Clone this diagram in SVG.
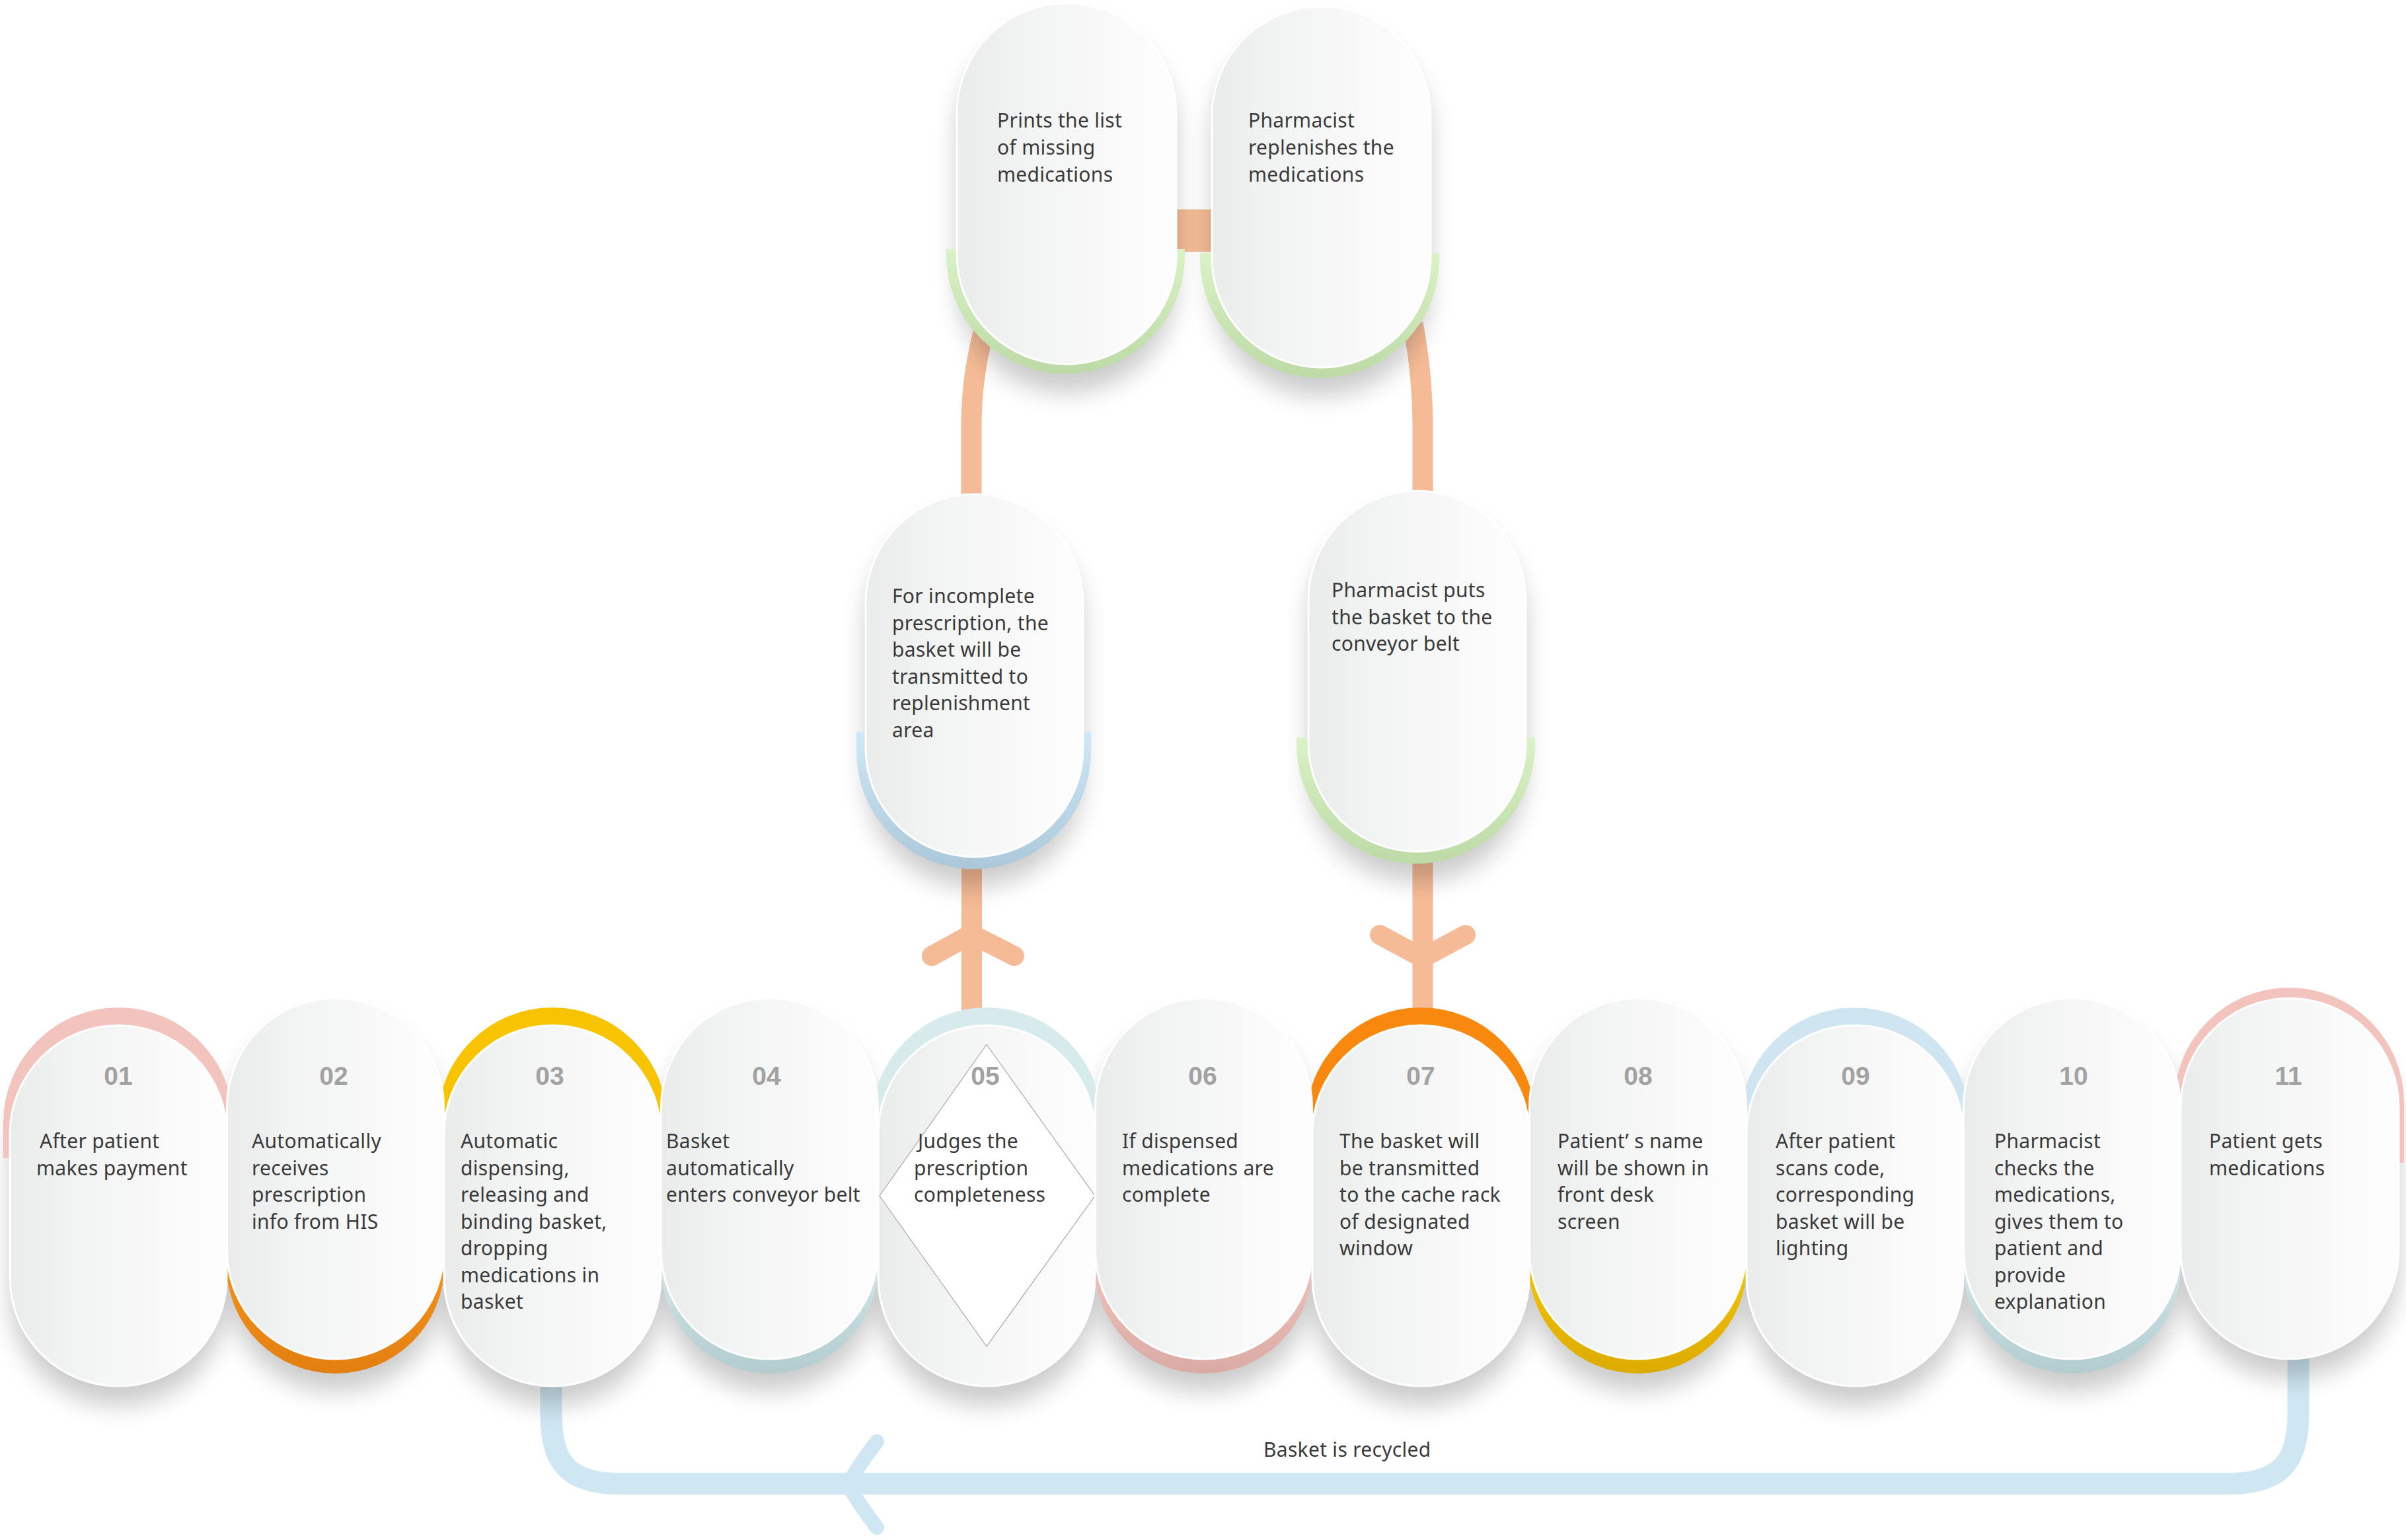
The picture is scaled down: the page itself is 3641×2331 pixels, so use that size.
<svg xmlns="http://www.w3.org/2000/svg" width="3641" height="2331" viewBox="0 0 3641 2331">
<defs>
<linearGradient id="pill" x1="0" y1="0" x2="1" y2="0">
<stop offset="0" stop-color="#eaecec"/><stop offset="0.35" stop-color="#f3f4f4"/><stop offset="0.75" stop-color="#fafafa"/><stop offset="1" stop-color="#fdfdfd"/>
</linearGradient>
<linearGradient id="gOr" x1="0" y1="0" x2="0" y2="1"><stop offset="0" stop-color="#f9951c"/><stop offset="1" stop-color="#e27f10"/></linearGradient>
<linearGradient id="gTeal" x1="0" y1="0" x2="0" y2="1"><stop offset="0" stop-color="#d8ebee"/><stop offset="1" stop-color="#b2cccf"/></linearGradient>
<linearGradient id="gSal" x1="0" y1="0" x2="0" y2="1"><stop offset="0" stop-color="#f4c6bf"/><stop offset="1" stop-color="#d9aba4"/></linearGradient>
<linearGradient id="gYel" x1="0" y1="0" x2="0" y2="1"><stop offset="0" stop-color="#f9c700"/><stop offset="1" stop-color="#ddab00"/></linearGradient>
<linearGradient id="gBlue" x1="0" y1="0" x2="0" y2="1"><stop offset="0" stop-color="#d0e8f5"/><stop offset="1" stop-color="#abc8da"/></linearGradient>
<linearGradient id="gGreen" x1="0" y1="0" x2="0" y2="1"><stop offset="0" stop-color="#daf2c6"/><stop offset="1" stop-color="#bddaa6"/></linearGradient>
<filter id="blur" x="-20%" y="-20%" width="140%" height="140%">
<feGaussianBlur stdDeviation="18"/>
</filter>
</defs>
<style>
.p{fill:url(#pill);stroke:#ffffff;stroke-width:3}
.s{fill:#000000}
.n{font-family:"Liberation Sans",Arial,sans-serif;font-weight:bold;font-size:39px;fill:#a2a2a2;text-anchor:middle}
.t{font-family:"Noto Sans","Liberation Sans",sans-serif;font-size:30px;fill:#3a3a3a;letter-spacing:0.3px}
.pc{fill:none;stroke:#f5bb96;stroke-width:31}
.ar{fill:none;stroke:#f5bb96;stroke-width:30;stroke-linecap:round;stroke-linejoin:round}
</style>
<rect width="3641" height="2331" fill="#ffffff"/>

<g id="connectors">
<rect x="1776" y="317" width="60" height="64" fill="#f5bb96"/>
<path class="pc" d="M1470 760 L1470 640 Q1471 560 1492 490"/>
<path class="pc" d="M2153 760 L2153 640 Q2152 560 2138 490"/>
<path class="pc" d="M1470.5 1290 V1535"/>
<path class="ar" d="M1410 1447 L1470 1414 L1535 1447"/>
<path class="pc" d="M2153 1285 V1540"/>
<path class="ar" d="M2088 1415 L2153 1450 L2218 1415"/>
<path d="M834 2080 V2140 C834 2215 860 2246 940 2246 H3370 C3450 2246 3478 2215 3478 2140 V2040" fill="none" stroke="#cfe7f3" stroke-width="33"/>
<path d="M1327 2182 Q1296 2222 1284 2247 Q1296 2272 1327 2312" fill="none" stroke="#cfe7f3" stroke-width="22" stroke-linecap="round" stroke-linejoin="round"/>
<text class="t" x="1912" y="2205">Basket is recycled</text>
</g>

<g id="shadows" filter="url(#blur)" opacity="0.2" transform="translate(0,30)">
<rect class="s" x="1448" y="5" width="332" height="560" rx="166"/>
<rect class="s" x="1834" y="10" width="331" height="560" rx="165.5"/>
<rect class="s" x="1310" y="748" width="329" height="565" rx="164.5"/>
<rect class="s" x="1980" y="743" width="329" height="562" rx="164.5"/>
<rect class="s" x="15" y="1552" width="328" height="546" rx="164"/>
<rect class="s" x="343.5" y="1511" width="328" height="566" rx="164"/>
<rect class="s" x="672" y="1552" width="328" height="546" rx="164"/>
<rect class="s" x="1000.5" y="1511" width="328" height="566" rx="164"/>
<rect class="s" x="1329" y="1552" width="328" height="546" rx="164"/>
<rect class="s" x="1657.5" y="1511" width="328" height="566" rx="164"/>
<rect class="s" x="1986" y="1552" width="328" height="546" rx="164"/>
<rect class="s" x="2314.5" y="1511" width="328" height="566" rx="164"/>
<rect class="s" x="2643" y="1552" width="328" height="546" rx="164"/>
<rect class="s" x="2971.5" y="1511" width="328" height="566" rx="164"/>
<rect class="s" x="3300" y="1511" width="330" height="546" rx="165"/>
</g>

<g id="accents">
<path d="M5 1753 V1699 A174 174 0 0 1 353 1699 V1753 Z" fill="#f3c4be"/>
<path d="M342.5 1880 V1914 A165 165 0 0 0 672.5 1914 V1880 Z" fill="url(#gOr)"/>
<path d="M662 1753 V1699 A174 174 0 0 1 1010 1699 V1753 Z" fill="#f8c300"/>
<path d="M999.5 1880 V1914 A165 165 0 0 0 1329.5 1914 V1880 Z" fill="url(#gTeal)"/>
<path d="M1319 1753 V1699 A174 174 0 0 1 1667 1699 V1753 Z" fill="#d7eaec"/>
<path d="M1656.5 1880 V1914 A165 165 0 0 0 1986.5 1914 V1880 Z" fill="url(#gSal)"/>
<path d="M1976 1753 V1699 A174 174 0 0 1 2324 1699 V1753 Z" fill="#f8890e"/>
<path d="M2313.5 1880 V1914 A165 165 0 0 0 2643.5 1914 V1880 Z" fill="url(#gYel)"/>
<path d="M2633 1753 V1699 A174 174 0 0 1 2981 1699 V1753 Z" fill="#cfe6f2"/>
<path d="M2970.5 1880 V1914 A165 165 0 0 0 3300.5 1914 V1880 Z" fill="url(#gTeal)"/>
<path d="M3290 1760 V1669 A174 174 0 0 1 3638 1669 V1760 Z" fill="#f3c4be"/>
<path d="M1296 1108 V1138 A177.5 177.5 0 0 0 1651 1138 V1108 Z" fill="url(#gBlue)"/>
<path d="M1962 1116 V1127 A180.5 180.5 0 0 0 2323 1127 V1116 Z" fill="url(#gGreen)"/>
<path d="M1432 377 V385.5 A180.5 180.5 0 0 0 1793 385.5 V377 Z" fill="url(#gGreen)"/>
<path d="M1816 383 V391 A181 181 0 0 0 2178 391 V383 Z" fill="url(#gGreen)"/>
</g>

<g id="node-print">
<rect class="p" x="1448" y="5" width="332" height="546" rx="166"/>
<text class="t"><tspan x="1509" y="193">Prints the list</tspan><tspan x="1509" y="234">of missing</tspan><tspan x="1509" y="275">medications</tspan></text>
</g>
<g id="node-replenish">
<rect class="p" x="1834" y="10" width="331" height="546" rx="165.5"/>
<text class="t"><tspan x="1889" y="193">Pharmacist</tspan><tspan x="1889" y="234">replenishes the</tspan><tspan x="1889" y="275">medications</tspan></text>
</g>
<g id="node-incomplete">
<rect class="p" x="1310" y="748" width="329" height="549" rx="164.5"/>
<text class="t"><tspan x="1350" y="913">For incomplete</tspan><tspan x="1350" y="953.5">prescription, the</tspan><tspan x="1350" y="994">basket will be</tspan><tspan x="1350" y="1034.5">transmitted to</tspan><tspan x="1350" y="1075">replenishment</tspan><tspan x="1350" y="1115.5">area</tspan></text>
</g>
<g id="node-puts">
<rect class="p" x="1980" y="743" width="329" height="546" rx="164.5"/>
<text class="t"><tspan x="2015" y="904">Pharmacist puts</tspan><tspan x="2015" y="944.5">the basket to the</tspan><tspan x="2015" y="985">conveyor belt</tspan></text>
</g>

<g id="node-01">
<rect class="p" x="15" y="1552" width="328" height="546" rx="164"/>
<text class="n" x="179" y="1642">01</text>
<text class="t"><tspan x="60" y="1738">After patient</tspan><tspan x="55" y="1778.5">makes payment</tspan></text>
</g>
<g id="node-02">
<rect class="p" x="343.5" y="1511" width="328" height="546" rx="164"/>
<text class="n" x="505" y="1642">02</text>
<text class="t"><tspan x="381" y="1738">Automatically</tspan><tspan x="381" y="1778.5">receives</tspan><tspan x="381" y="1819">prescription</tspan><tspan x="381" y="1859.5">info from HIS</tspan></text>
</g>
<g id="node-03">
<rect class="p" x="672" y="1552" width="328" height="546" rx="164"/>
<text class="n" x="832" y="1642">03</text>
<text class="t"><tspan x="697" y="1738">Automatic</tspan><tspan x="697" y="1778.5">dispensing,</tspan><tspan x="697" y="1819">releasing and</tspan><tspan x="697" y="1859.5">binding basket,</tspan><tspan x="697" y="1900">dropping</tspan><tspan x="697" y="1940.5">medications in</tspan><tspan x="697" y="1981">basket</tspan></text>
</g>
<g id="node-04">
<rect class="p" x="1000.5" y="1511" width="328" height="546" rx="164"/>
<text class="n" x="1160" y="1642">04</text>
<text class="t"><tspan x="1008" y="1738">Basket</tspan><tspan x="1008" y="1778.5">automatically</tspan><tspan x="1008" y="1819">enters conveyor belt</tspan></text>
</g>
<g id="node-05">
<rect class="p" x="1329" y="1552" width="328" height="546" rx="164"/>
<polygon points="1493,1581 1657,1810 1493,2038 1331,1810" fill="#ffffff" stroke="#a8a8a8" stroke-width="1.2"/>
<text class="n" x="1491" y="1642">05</text>
<text class="t"><tspan x="1389" y="1738">Judges the</tspan><tspan x="1383" y="1778.5">prescription</tspan><tspan x="1383" y="1819">completeness</tspan></text>
</g>
<g id="node-06">
<rect class="p" x="1657.5" y="1511" width="328" height="546" rx="164"/>
<text class="n" x="1820" y="1642">06</text>
<text class="t"><tspan x="1698" y="1738">If dispensed</tspan><tspan x="1698" y="1778.5">medications are</tspan><tspan x="1698" y="1819">complete</tspan></text>
</g>
<g id="node-07">
<rect class="p" x="1986" y="1552" width="328" height="546" rx="164"/>
<text class="n" x="2150" y="1642">07</text>
<text class="t"><tspan x="2027" y="1738">The basket will</tspan><tspan x="2027" y="1778.5">be transmitted</tspan><tspan x="2027" y="1819">to the cache rack</tspan><tspan x="2027" y="1859.5">of designated</tspan><tspan x="2027" y="1900">window</tspan></text>
</g>
<g id="node-08">
<rect class="p" x="2314.5" y="1511" width="328" height="546" rx="164"/>
<text class="n" x="2479" y="1642">08</text>
<text class="t"><tspan x="2357" y="1738">Patient’ s name</tspan><tspan x="2357" y="1778.5">will be shown in</tspan><tspan x="2357" y="1819">front desk</tspan><tspan x="2357" y="1859.5">screen</tspan></text>
</g>
<g id="node-09">
<rect class="p" x="2643" y="1552" width="328" height="546" rx="164"/>
<text class="n" x="2808" y="1642">09</text>
<text class="t"><tspan x="2687" y="1738">After patient</tspan><tspan x="2687" y="1778.5">scans code,</tspan><tspan x="2687" y="1819">corresponding</tspan><tspan x="2687" y="1859.5">basket will be</tspan><tspan x="2687" y="1900">lighting</tspan></text>
</g>
<g id="node-10">
<rect class="p" x="2971.5" y="1511" width="328" height="546" rx="164"/>
<text class="n" x="3138" y="1642">10</text>
<text class="t"><tspan x="3018" y="1738">Pharmacist</tspan><tspan x="3018" y="1778.5">checks the</tspan><tspan x="3018" y="1819">medications,</tspan><tspan x="3018" y="1859.5">gives them to</tspan><tspan x="3018" y="1900">patient and</tspan><tspan x="3018" y="1940.5">provide</tspan><tspan x="3018" y="1981">explanation</tspan></text>
</g>
<g id="node-11">
<rect class="p" x="3300" y="1511" width="330" height="546" rx="165"/>
<text class="n" x="3463" y="1642">11</text>
<text class="t"><tspan x="3343" y="1738">Patient gets</tspan><tspan x="3343" y="1778.5">medications</tspan></text>
</g>
</svg>
